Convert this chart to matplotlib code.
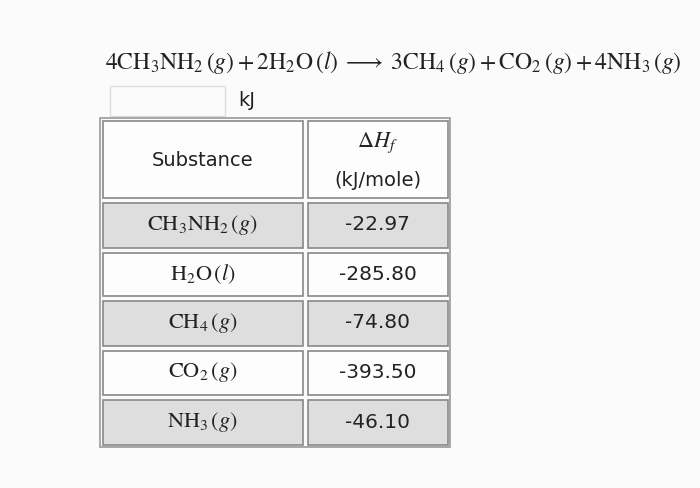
import matplotlib
matplotlib.use("Agg")
import matplotlib.pyplot as plt
from matplotlib.patches import Rectangle

plt.rcParams['mathtext.fontset'] = 'stix'

substances = [r"$\mathrm{CH_3NH_2}\,(g)$", r"$\mathrm{H_2O}\,(l)$", r"$\mathrm{CH_4}\,(g)$",
              r"$\mathrm{CO_2}\,(g)$", r"$\mathrm{NH_3}\,(g)$"]
values = ["-22.97", "-285.80", "-74.80", "-393.50", "-46.10"]
equation = (r"$4\mathrm{CH_3NH_2}\,(g) + 2\mathrm{H_2O}\,(l) \;\longrightarrow\; "
            r"3\mathrm{CH_4}\,(g) + \mathrm{CO_2}\,(g) + 4\mathrm{NH_3}\,(g)$")

fig = plt.figure(figsize=(7, 4.88), dpi=100, facecolor="#fbfbfb")
ax = fig.add_axes([0, 0, 1, 1])
ax.set_xlim(0, 700); ax.set_ylim(488, 0); ax.axis("off")

ax.text(105, 62, equation, fontsize=17, va="center", ha="left", color="#222")
ax.add_patch(Rectangle((110, 86), 115, 30, fill=False, ec="#dddddd", lw=1))
ax.text(238, 101, "kJ", fontsize=14, va="center", color="#222")

# table
x0, xm, x1 = 100, 305, 450
rows = [118, 200, 250, 298, 348, 397, 447]
ax.add_patch(Rectangle((x0, rows[0]), x1 - x0, rows[-1] - rows[0], fill=False, ec="#999", lw=1.2))
for i in range(len(rows) - 1):
    ya, yb = rows[i], rows[i + 1]
    shade = "#dedede" if i in (1, 3, 5) else "#fdfdfd"
    for xa, xb in ((x0, xm), (xm, x1)):
        ax.add_patch(Rectangle((xa + 2.5, ya + 2.5), xb - xa - 5, yb - ya - 5, fc=shade, ec="#888", lw=1.2))

ax.text((x0 + xm) / 2, 160, "Substance", fontsize=14, ha="center", va="center", color="#222")
ax.text((xm + x1) / 2, 143, r"$\Delta H_f$", fontsize=16, ha="center", va="center", color="#222")
ax.text((xm + x1) / 2, 181, "(kJ/mole)", fontsize=14, ha="center", va="center", color="#222")
for i, (s, v) in enumerate(zip(substances, values)):
    yc = (rows[i + 1] + rows[i + 2]) / 2
    ax.text((x0 + xm) / 2, yc, s, fontsize=16, ha="center", va="center", color="#222")
    ax.text((xm + x1) / 2, yc, v, fontsize=14.5, ha="center", va="center", color="#222")

fig.savefig("out.png", dpi=100, facecolor=fig.get_facecolor())
